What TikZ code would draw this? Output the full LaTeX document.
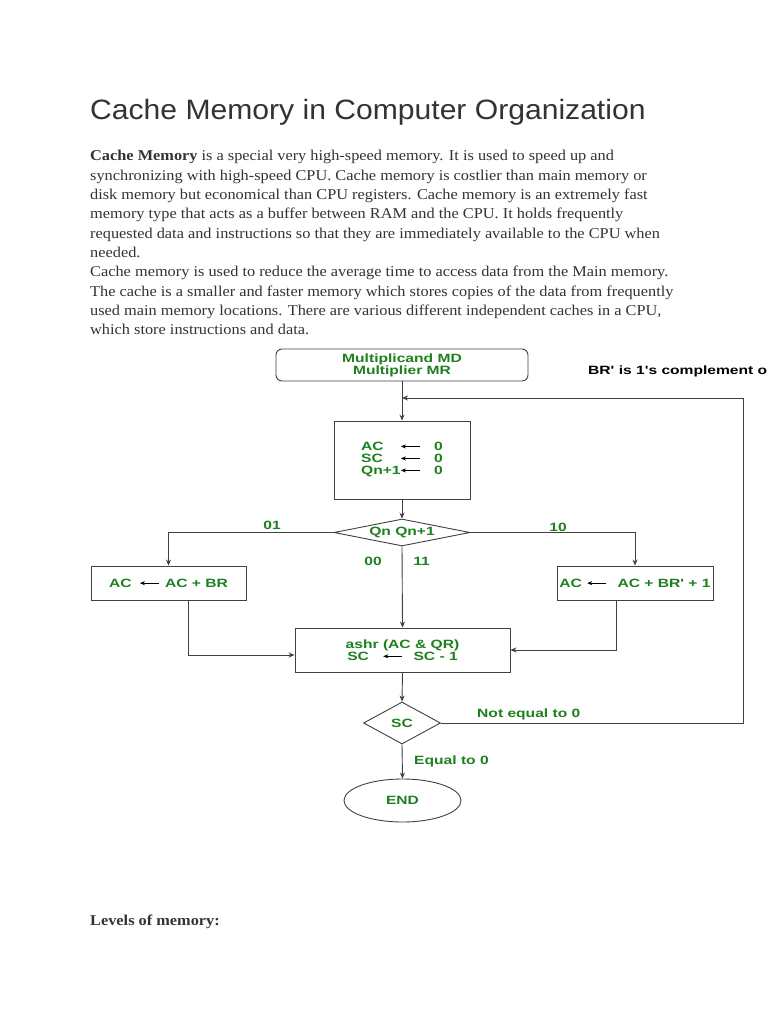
\documentclass[tikz,border=0pt]{standalone}
\usepackage{fontspec}
\usetikzlibrary{shapes.geometric,arrows.meta}
\setmainfont[FakeStretch=1.088]{Liberation Serif}
\newfontfamily\titlefont[FakeStretch=1.075]{Liberation Sans}
\newfontfamily\flowfont[FakeStretch=1.3]{Liberation Sans}
\definecolor{txtgray}{HTML}{333333}
\definecolor{fgreen}{RGB}{30,128,30}
\definecolor{lgray}{HTML}{404040}
\newcommand\larr{\tikz[x=1pt,y=1pt,baseline={(0,-4pt)}]{\draw[black, line width=0.6pt, -{Stealth[length=5pt,width=4pt]}] (19,0) -- (0,0);}}
\tikzset{
  para/.style={inner sep=0pt, text=txtgray, font=\fontsize{15}{19.3}\selectfont},
  fc/.style={draw=lgray, line width=0.9pt, text=fgreen, inner sep=0pt,
    font=\flowfont\bfseries\fontsize{12}{12}\selectfont, align=center},
  lab/.style={inner sep=0pt, text=fgreen, font=\flowfont\bfseries\fontsize{12}{12}\selectfont},
  conn/.style={draw=lgray, line width=0.9pt},
  arr/.style={conn, -{Stealth[length=6pt,width=5pt]}}
}
\begin{document}
\begin{tikzpicture}[x=1pt,y=-1pt]
\path[use as bounding box, fill=white] (0,0) rectangle (768,1024);
% title and text
\node[anchor=base west, inner sep=0pt, text=txtgray, font=\titlefont\fontsize{28}{32}\selectfont] (title) at (90,120) {Cache Memory in Computer Organization};
\foreach \txt [count=\i from 0] in {
{\textbf{Cache Memory} is a special very high-speed memory. It is used to speed up and},
{synchronizing with high-speed CPU. Cache memory is costlier than main memory or},
{disk memory but economical than CPU registers. Cache memory is an extremely fast},
{memory type that acts as a buffer between RAM and the CPU. It holds frequently},
{requested data and instructions so that they are immediately available to the CPU when},
{needed.},
{Cache memory is used to reduce the average time to access data from the Main memory.},
{The cache is a smaller and faster memory which stores copies of the data from frequently},
{used main memory locations. There are various different independent caches in a CPU,},
{which store instructions and data.}
}{\node[para, anchor=base west] (p\i) at (90,{161+19.3*\i}) {\txt};}
\node[para, anchor=base west, font=\bfseries\fontsize{15}{19.3}\selectfont] (levels) at (90,925) {Levels of memory:};
% flowchart nodes
\node[fc, rounded corners=6pt, minimum width=252pt, minimum height=32pt] (start) at (402,365) {Multiplicand MD\\Multiplier MR};
\node[anchor=base west, inner sep=0pt, text=black, font=\flowfont\bfseries\fontsize{12}{12}\selectfont] (note) at (588,374) {BR' is 1's complement o};
\node[fc, minimum width=136pt, minimum height=78pt] (init) at (402,460)
  {\begin{tabular}{@{}l@{}c@{\hspace{14pt}}l@{}}AC&\larr&0\\SC&\larr&0\\Qn+1&\larr&0\end{tabular}};
\node[fc, diamond, shape aspect=5, minimum width=136pt, minimum height=27pt] (dec) at (402,532.5) {Qn Qn+1};
\node[fc, minimum width=155pt, minimum height=34pt] (lbox) at (168.5,583) {AC\hspace{8pt}\larr\hspace{6pt}AC + BR};
\node[fc, minimum width=156pt, minimum height=34pt] (rbox) at (635,583) {AC\hspace{5pt}\larr\hspace{11pt}AC + BR' + 1};
\node[fc, minimum width=215pt, minimum height=44pt] (ashr) at (402.5,650) {ashr (AC \& QR)\\SC\hspace{14pt}\larr\hspace{11pt}SC - 1};
\node[fc, diamond, shape aspect=2, minimum width=77pt, minimum height=42pt] (sc) at (402,723) {SC};
\node[fc, ellipse, minimum width=117pt, minimum height=43pt] (endn) at (402.5,800.5) {END};
\coordinate (loopc) at (743,398);
\coordinate (loopin) at (402,398);
% connectors
\draw[arr] (start.south) -- (init.north);
\draw[arr] (init.south) -- (dec.north);
\draw[arr] (dec.west) -| (lbox.north);
\draw[arr] (dec.east) -| (rbox.north);
\draw[arr] (dec.south) -- (ashr.north);
\draw[arr] ([xshift=19.5pt]lbox.south) |- ([yshift=-5pt]ashr.west);
\draw[arr] ([xshift=-19pt]rbox.south) |- (ashr.east);
\draw[arr] (ashr.south) -- (sc.north);
\draw[arr] (sc.south) -- (endn.north);
\draw[arr] (sc.east) -| (loopc) -- (loopin);
% labels
\node[lab] (l01) at (272,525) {01};
\node[lab] (l10) at (558,527) {10};
\node[lab] (l00) at (373,561) {00};
\node[lab] (l11) at (421.5,561) {11};
\node[lab, anchor=west] (lne) at (477,714) {Not equal to 0};
\node[lab, anchor=west] (leq) at (414,761) {Equal to 0};
\end{tikzpicture}
\end{document}
